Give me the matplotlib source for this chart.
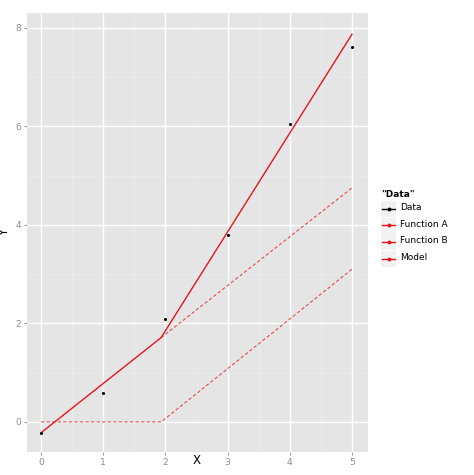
import matplotlib
matplotlib.use("Agg")
import matplotlib.pyplot as plt
from matplotlib.lines import Line2D
from matplotlib.patches import Rectangle

# data
x_data = [0, 1, 2, 3, 4, 5]
y_data = [-0.22, 0.59, 2.09, 3.80, 6.05, 7.61]

model_x = [0, 1.93, 5]
model_y = [-0.22, 1.71, 7.87]

func_a_x = [1.93, 5]
func_a_y = [1.71, 4.75]

func_b_x = [0, 1.93, 5]
func_b_y = [0, 0, 3.10]

x_ticks = [0, 1, 2, 3, 4, 5]
y_ticks = [0, 2, 4, 6, 8]
x_minor = [0.5, 1.5, 2.5, 3.5, 4.5]
y_minor = [1, 3, 5, 7]
legend_labels = ["Data", "Function A", "Function B", "Model"]
legend_colors = ["black", "#E8141B", "#E8141B", "#E8141B"]

red = "#E8141B"

fig = plt.figure(figsize=(4.74, 4.75), dpi=100)
ax = fig.add_axes([27 / 474, 1 - 452 / 475, (368 - 27) / 474, (452 - 13) / 475])
ax.set_facecolor("#E5E5E5")
for s in ax.spines.values():
    s.set_visible(False)

ax.set_xlim(-0.225, 5.257)
ax.set_ylim(-0.61, 8.30)

ax.set_xticks(x_ticks)
ax.set_yticks(y_ticks)
ax.set_xticks(x_minor, minor=True)
ax.set_yticks(y_minor, minor=True)
ax.grid(which="major", color="white", lw=1.0)
ax.grid(which="minor", color="#EDEDED", lw=0.5)
ax.set_axisbelow(True)
ax.tick_params(which="major", length=2, width=0.6, color="#8C8C8C",
               labelcolor="#8C8C8C", labelsize=6.5, pad=2)
ax.tick_params(which="minor", length=0)

ax.plot(func_b_x, func_b_y, color=red, lw=0.8, ls=(0, (3, 2)), alpha=0.75)
ax.plot(func_a_x, func_a_y, color=red, lw=0.8, ls=(0, (3, 2)), alpha=0.75)
ax.plot(model_x, model_y, color=red, lw=1.0)
ax.scatter(x_data, y_data, s=5, color="black", zorder=5, linewidths=0)

fig.text(197 / 474, 1 - 461 / 475, "X", ha="center", va="center", fontsize=8.5)
fig.text(5 / 474, 1 - 232 / 475, "Y", ha="center", va="center", fontsize=8.5, rotation=90)

# legend
fig.text(381 / 474, 1 - 194 / 475, '"Data"', fontsize=6.5, fontweight="bold", va="center")
for i, (lab, col) in enumerate(zip(legend_labels, legend_colors)):
    yc = 209 + i * 16.5
    fig.add_artist(Rectangle((381 / 474, 1 - (yc + 8) / 475), 15 / 474, 16 / 475,
                             transform=fig.transFigure, facecolor="#F2F2F2", edgecolor="none"))
    fig.add_artist(Line2D([382 / 474, 395 / 474], [1 - yc / 475] * 2, color=col, lw=1.0,
                          transform=fig.transFigure))
    fig.add_artist(Line2D([388.5 / 474], [1 - yc / 475], color=col, marker="o", ms=1.8,
                          transform=fig.transFigure))
    fig.text(400 / 474, 1 - (yc - 1.5) / 475, lab, fontsize=6.5, va="center")

fig.savefig("out.png", dpi=100)
